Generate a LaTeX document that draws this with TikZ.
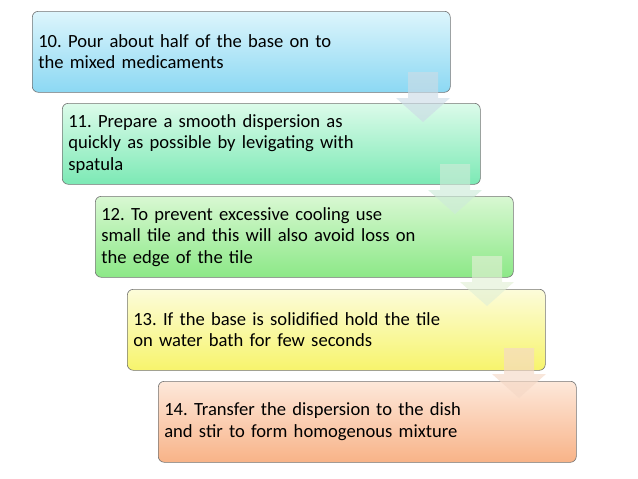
\documentclass[tikz,border=0pt]{standalone}
\usepackage{fontspec}
\setmainfont{Carlito}
\begin{document}
\frenchspacing
\begin{tikzpicture}[x=1pt,y=-1pt,
  stepbox/.style={draw=black!55, line width=0.6pt, rounded corners=6pt,
    minimum width=418pt, minimum height=81pt, text width=406pt,
    align=left, inner xsep=6pt, anchor=north west,
    font=\fontsize{18.6}{21.5}\selectfont, text=black},
  flowarrow/.style={opacity=0.65}]
\useasboundingbox (0,0) rectangle (638,479);
\definecolor{bA}{HTML}{DDF5FC}\definecolor{bB}{HTML}{8CD8F3}
\definecolor{gA}{HTML}{DCFBEA}\definecolor{gB}{HTML}{7CE9B5}
\definecolor{hA}{HTML}{D8F8D2}\definecolor{hB}{HTML}{8CE887}
\definecolor{yA}{HTML}{FCFCDA}\definecolor{yB}{HTML}{F7F46C}
\definecolor{oA}{HTML}{FDE8DA}\definecolor{oB}{HTML}{F8B388}
\node[stepbox, top color=bA, bottom color=bB] (b1) at (32,11) {10. Pour about half of the base on to\\the mixed medicaments};
\node[stepbox, top color=gA, bottom color=gB] (b2) at (62,103) {11. Prepare a smooth dispersion as\\quickly as possible by levigating with\\spatula};
\node[stepbox, top color=hA, bottom color=hB] (b3) at (95,196) {12. To prevent excessive cooling use\\small tile and this will also avoid loss on\\the edge of the tile};
\node[stepbox, top color=yA, bottom color=yB] (b4) at (127,289) {13. If the base is solidified hold the tile\\on water bath for few seconds};
\node[stepbox, top color=oA, bottom color=oB] (b5) at (158,381) {14. Transfer the dispersion to the dish\\and stir to form homogenous mixture};
\foreach \k/\c in {0/CCDCE6,1/CDEBD8,2/E2F0D5,3/F5D8C6}{
  \definecolor{ac}{HTML}{\c}
  \pgfmathsetmacro{\cx}{423+32*\k}
  \pgfmathsetmacro{\ty}{72+92*\k}
  \fill[ac, flowarrow] (\cx-15,\ty) -- (\cx+15,\ty) -- (\cx+15,\ty+26) -- (\cx+27,\ty+26)
     -- (\cx,\ty+50) -- (\cx-27,\ty+26) -- (\cx-15,\ty+26) -- cycle;
}
\end{tikzpicture}
\end{document}
